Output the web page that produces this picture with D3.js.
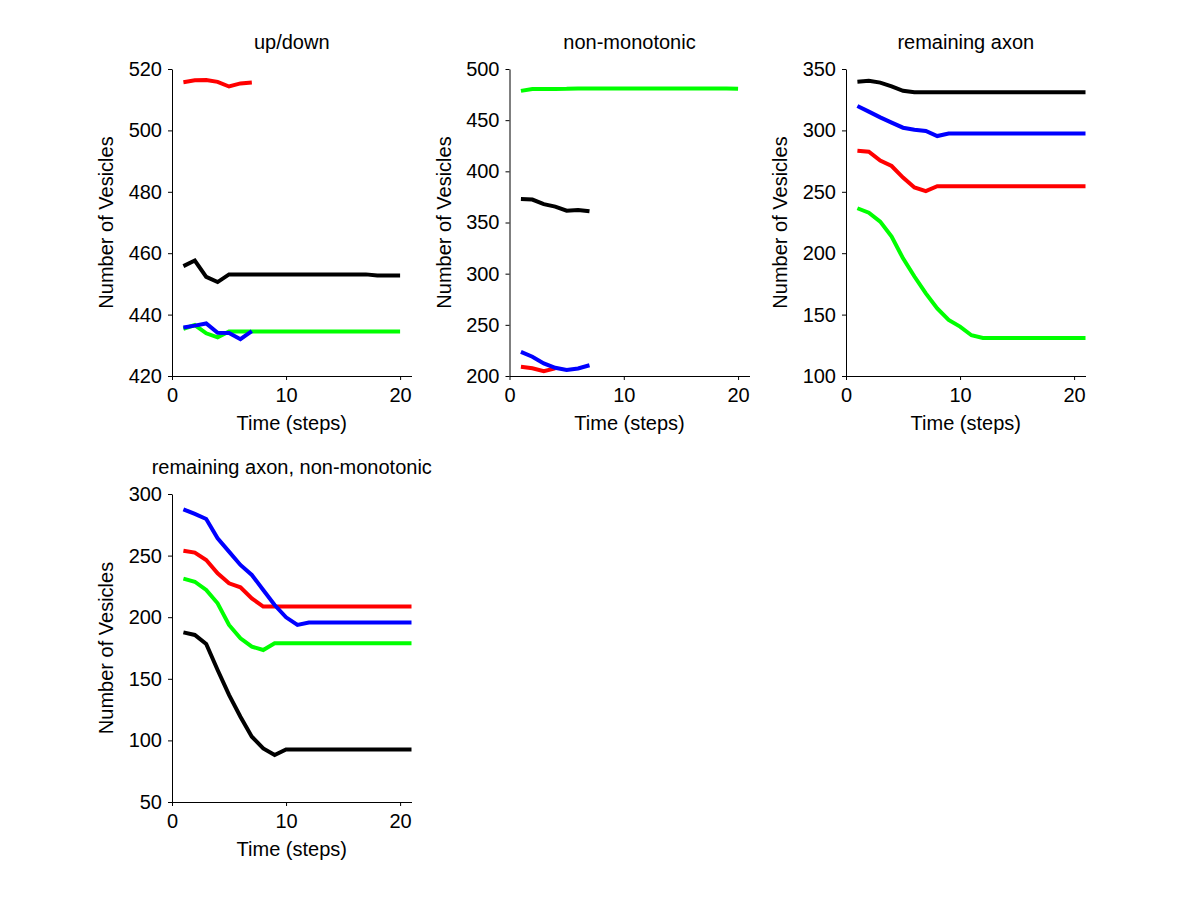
<!DOCTYPE html>
<html lang="en">
<head>
<meta charset="UTF-8">
<script src="https://cdn.jsdelivr.net/npm/d3@7"></script>
<title>vesicles</title>
<style>
  body { margin: 0; background: white; }
  text { font-family: "Liberation Sans", Arial, sans-serif; fill: black; }
  .tick text { font-size: 20px; }
  .label { font-size: 20px; }
</style>
</head>
<body>
<div id="chart"></div>
<script>
// panel titles
var titles = ["up/down", "non-monotonic", "remaining axon", "remaining axon, non-monotonic"];
var yDomains = [[420, 520], [200, 500], [100, 350], [50, 300]];
var yTicks = [
  [420, 440, 460, 480, 500, 520],
  [200, 250, 300, 350, 400, 450, 500],
  [100, 150, 200, 250, 300, 350],
  [50, 100, 150, 200, 250, 300]
];
var xTicks = [0, 10, 20];

// series per panel, values start at t = 1
var upDownRed   = [515.7, 516.3, 516.4, 515.8, 514.3, 515.3, 515.6];
var upDownBlack = [455.8, 457.6, 452.3, 450.6, 453.1, 453.1, 453.1, 453.1, 453.1, 453.1,
                   453.1, 453.1, 453.1, 453.1, 453.1, 453.1, 453.1, 452.7, 452.7, 452.7];
var upDownGreen = [435.4, 436.6, 433.9, 432.6, 434.5, 434.5, 434.5, 434.5, 434.5, 434.5,
                   434.5, 434.5, 434.5, 434.5, 434.5, 434.5, 434.5, 434.5, 434.5, 434.5];
var upDownBlue  = [435.8, 436.4, 437.1, 434.1, 434.0, 432.0, 434.6];

var nonMonoGreen = [478.6, 480.5, 480.5, 480.5, 480.6, 481, 481, 481, 481, 481,
                    481, 481, 481, 481, 481, 481, 481, 481, 481, 480.6];
var nonMonoBlack = [373, 372.4, 368, 365.5, 361.5, 362.3, 361];
var nonMonoBlue  = [223.5, 218.8, 212.3, 208, 205.9, 207.3, 210.5];
var nonMonoRed   = [209, 207.5, 204.8, 207.5];

var axonBlack = [339.7, 340.4, 338.9, 335.8, 332.2, 331, 331, 331, 331, 331, 331,
                 331, 331, 331, 331, 331, 331, 331, 331, 331, 331];
var axonBlue  = [319.9, 315.3, 310.6, 306.3, 302.2, 300.6, 299.5, 295.4, 297.5, 297.5, 297.5,
                 297.5, 297.5, 297.5, 297.5, 297.5, 297.5, 297.5, 297.5, 297.5, 297.5];
var axonRed   = [283.5, 282.7, 275.4, 271, 261.6, 253.5, 250.5, 254.5, 254.5, 254.5, 254.5,
                 254.5, 254.5, 254.5, 254.5, 254.5, 254.5, 254.5, 254.5, 254.5, 254.5];
var axonGreen = [236.6, 233, 225.7, 213.5, 195.8, 181, 167.3, 155.1, 145.6, 140.2, 133.2,
                 131, 131, 131, 131, 131, 131, 131, 131, 131, 131];

var axonNmBlue  = [287.6, 283.8, 279.7, 264, 253.2, 242.4, 234.3, 222.1, 209.9, 199.9, 193.7,
                   195.6, 195.6, 195.6, 195.6, 195.6, 195.6, 195.6, 195.6, 195.6, 195.6];
var axonNmRed   = [254, 252.4, 246.4, 235.6, 227.5, 224.3, 215.3, 208.6, 208.6, 208.6, 208.6,
                   208.6, 208.6, 208.6, 208.6, 208.6, 208.6, 208.6, 208.6, 208.6, 208.6];
var axonNmGreen = [231.3, 228.8, 222.1, 211.3, 193.7, 182.9, 176.1, 173.4, 178.8, 178.8, 178.8,
                   178.8, 178.8, 178.8, 178.8, 178.8, 178.8, 178.8, 178.8, 178.8, 178.8];
var axonNmBlack = [187.7, 185.6, 178.2, 157.1, 136.9, 119.2, 103, 93.5, 88.1, 92.7, 92.7,
                   92.7, 92.7, 92.7, 92.7, 92.7, 92.7, 92.7, 92.7, 92.7, 92.7];

var panelSeries = [
  [[upDownBlack, "#000000"], [upDownRed, "#ff0000"], [upDownGreen, "#00ff00"], [upDownBlue, "#0000ff"]],
  [[nonMonoBlack, "#000000"], [nonMonoRed, "#ff0000"], [nonMonoGreen, "#00ff00"], [nonMonoBlue, "#0000ff"]],
  [[axonBlack, "#000000"], [axonRed, "#ff0000"], [axonGreen, "#00ff00"], [axonBlue, "#0000ff"]],
  [[axonNmBlack, "#000000"], [axonNmRed, "#ff0000"], [axonNmGreen, "#00ff00"], [axonNmBlue, "#0000ff"]]
];

// axes boxes: left, top, width, height
var boxes = [
  {x: 172, y: 69, w: 239.5, h: 307},
  {x: 509.5, y: 69, w: 240, h: 307},
  {x: 846, y: 69, w: 239.5, h: 307},
  {x: 172, y: 494, w: 239.5, h: 308}
];

var svg = d3.select("#chart").append("svg")
  .attr("width", 1200)
  .attr("height", 901);

svg.append("rect").attr("width", 1200).attr("height", 901).attr("fill", "white");

boxes.forEach(function(b, i) {
  var g = svg.append("g").attr("transform", "translate(" + b.x + "," + b.y + ")");

  var x = d3.scaleLinear().domain([0, 21]).range([0, b.w]);
  var y = d3.scaleLinear().domain(yDomains[i]).range([b.h, 0]);

  var line = d3.line()
    .x(function(d, k) { return x(k + 1); })
    .y(function(d) { return y(d); });

  panelSeries[i].forEach(function(s) {
    g.append("path")
      .datum(s[0])
      .attr("d", line)
      .attr("fill", "none")
      .attr("stroke", s[1])
      .attr("stroke-width", 4);
  });

  var xAxis = g.append("g")
    .attr("transform", "translate(0," + b.h + ")")
    .call(d3.axisBottom(x).tickValues(xTicks).tickSize(4).tickSizeOuter(0).tickPadding(8));
  var yAxis = g.append("g")
    .call(d3.axisLeft(y).tickValues(yTicks[i]).tickSize(4).tickSizeOuter(0).tickPadding(6));

  [xAxis, yAxis].forEach(function(a) {
    a.select(".domain").attr("stroke", "black");
    a.selectAll(".tick line").attr("stroke", "black");
    a.selectAll(".tick text").attr("fill", "black").style("font-size", "20px");
  });

  g.append("text")
    .attr("class", "label")
    .attr("x", b.w / 2)
    .attr("y", -20.5)
    .attr("text-anchor", "middle")
    .text(titles[i]);

  g.append("text")
    .attr("class", "label")
    .attr("x", b.w / 2)
    .attr("y", b.h + 54)
    .attr("text-anchor", "middle")
    .text("Time (steps)");

  g.append("text")
    .attr("class", "label")
    .attr("transform", "translate(" + (-59) + "," + (b.h / 2) + ") rotate(-90)")
    .attr("text-anchor", "middle")
    .text("Number of Vesicles");
});
</script>
</body>
</html>
